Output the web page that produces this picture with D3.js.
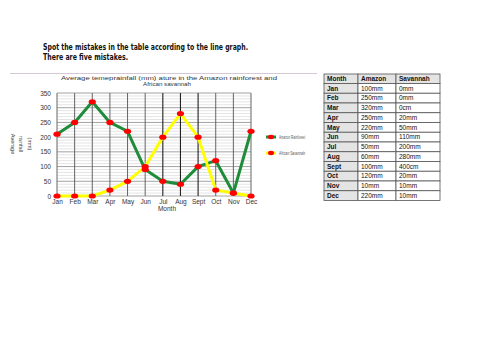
<!DOCTYPE html>
<html><head><meta charset="utf-8">
<script src="https://cdn.jsdelivr.net/npm/d3@7"></script>
<style>body{margin:0;background:#fff}svg{display:block}</style>
</head><body>
<svg id="c" width="500" height="353"></svg>
<script>
const months = ["Jan","Feb","Mar","Apr","May","Jun","Jul","Aug","Sept","Oct","Nov","Dec"];
const monthLabels = ["Jan","Feb","Mar","Apr","May","Jun","Jul","Aug","Sept","Oct","Nov","Dec"];
const amazon = [210,250,320,250,220,90,50,40,100,120,10,220];
const savannah = [0,0,0,20,50,100,200,280,200,20,10,0];
const yTicks = [0,50,100,150,200,250,300,350];
const seriesNames = ["Amazon Rainforest","African Savannah"];
const tableHeader = ["Month","Amazon","Savannah"];
const tableMonths = ["Jan","Feb","Mar","Apr","May","Jun","Jul","Aug","Sept","Oct","Nov","Dec"];
const tableAmazon = ["100mm","250mm","320mm","250mm","220mm","90mm","50mm","60mm","100mm","120mm","10mm","220mm"];
const tableSavannah = ["0mm","0mm","0cm","20mm","50mm","110mm","200mm","280mm","400cm","20mm","10mm","10mm"];

const svg = d3.select("#c");

// instructions
const instr = svg.append("g").attr("font-family","DejaVu Sans").attr("font-weight","bold").attr("font-size",8).attr("fill","#111");
instr.append("text").attr("x",43).attr("y",50).attr("textLength",205).attr("lengthAdjust","spacingAndGlyphs")
  .text("Spot the mistakes in the table according to the line graph.");
instr.append("text").attr("x",43).attr("y",60).attr("textLength",85).attr("lengthAdjust","spacingAndGlyphs")
  .text("There are five mistakes.");

svg.append("line").attr("x1",10).attr("x2",317).attr("y1",73.5).attr("y2",73.5).attr("stroke","#d6c8d6").attr("stroke-width",1);

// chart
const x = d3.scalePoint().domain(months).range([57,251]);
const y = d3.scaleLinear().domain([0,350]).range([196,93]);

const title = svg.append("g").attr("font-family","Liberation Sans").attr("font-size",6.2).attr("fill","#333").attr("text-anchor","middle");
title.append("text").attr("x",169).attr("y",79.5).attr("textLength",216).attr("lengthAdjust","spacingAndGlyphs")
  .text("Average temeprainfall (mm) ature  in the Amazon rainforest and");
title.append("text").attr("x",167).attr("y",86).text("African savannah");

const grid = svg.append("g");
grid.selectAll("line.minor").data(d3.range(0,351,10).filter(v=>v%50!==0)).join("line")
  .attr("x1",57).attr("x2",251).attr("y1",d=>y(d)).attr("y2",d=>y(d)).attr("stroke","#d2d2d2").attr("stroke-width",0.6);
grid.selectAll("line.major").data(yTicks).join("line")
  .attr("x1",57).attr("x2",251).attr("y1",d=>y(d)).attr("y2",d=>y(d)).attr("stroke","#8a8a8a").attr("stroke-width",0.8);
grid.selectAll("line.v").data(months).join("line")
  .attr("x1",d=>x(d)).attr("x2",d=>x(d)).attr("y1",93).attr("y2",196)
  .attr("stroke",(d,i)=>(i>=6&&i<=8)?"#222":"#555").attr("stroke-width",(d,i)=>(i>=6&&i<=8)?1.1:0.9);

const yAxis = svg.append("g").attr("transform","translate(57,0)")
  .call(d3.axisLeft(y).tickValues(yTicks).tickSize(0).tickPadding(6));
yAxis.select(".domain").remove();
yAxis.selectAll("text").attr("font-family","Liberation Sans").attr("font-size",6.5).attr("fill","#333");

const xAxis = svg.append("g").attr("transform","translate(0,196)")
  .call(d3.axisBottom(x).tickFormat((d,i)=>monthLabels[i]).tickSize(0).tickPadding(3));
xAxis.select(".domain").remove();
xAxis.selectAll("text").attr("font-family","Liberation Sans").attr("font-size",6.5).attr("fill","#333");

svg.append("text").attr("x",167).attr("y",210.5).attr("text-anchor","middle")
  .attr("font-family","Liberation Sans").attr("font-size",6.5).attr("fill","#333").text("Month");

const yl = svg.append("g").attr("font-family","Liberation Sans").attr("font-size",5.5).attr("fill","#444").attr("text-anchor","middle");
[["Average",13],["rainfall",21],["(mm)",30]].forEach(([t,px])=>{
  yl.append("text").attr("transform",`translate(${px},144) rotate(90)`).attr("dy","0.35em").text(t);
});

const line = d3.line().x((d,i)=>x(months[i])).y(d=>y(d));
svg.append("path").datum(amazon).attr("d",line).attr("fill","none").attr("stroke","#1e8c3a").attr("stroke-width",3).attr("stroke-linejoin","round");
svg.append("path").datum(savannah).attr("d",line).attr("fill","none").attr("stroke","#ffff00").attr("stroke-width",3).attr("stroke-linejoin","round");
[amazon,savannah].forEach(s=>{
  svg.append("g").selectAll("ellipse").data(s).join("ellipse")
    .attr("cx",(d,i)=>x(months[i])).attr("cy",d=>y(d)).attr("rx",3.6).attr("ry",2.6).attr("fill","#ff0000");
});

// legend
const legColors = ["#1e8c3a","#ffff00"];
const leg = svg.append("g");
seriesNames.forEach((n,i)=>{
  const ly = 137 + i*16;
  leg.append("line").attr("x1",266).attr("x2",276).attr("y1",ly).attr("y2",ly).attr("stroke",legColors[i]).attr("stroke-width",3);
  leg.append("ellipse").attr("cx",271).attr("cy",ly).attr("rx",3).attr("ry",2.2).attr("fill","#ff0000");
  leg.append("text").attr("x",279).attr("y",ly).attr("dy","0.35em").attr("font-family","Liberation Sans").attr("font-size",4.5)
    .attr("fill","#555").attr("textLength",26).attr("lengthAdjust","spacingAndGlyphs").text(n);
});

// table
const colX = [324,358,396,440];
const tTop = 74, headH = 9.5, rowH = 9.75;
const tb = svg.append("g").attr("font-family","Liberation Sans").attr("font-size",6.5).attr("fill","#111");
const rows = [tableHeader].concat(tableMonths.map((m,i)=>[m,tableAmazon[i],tableSavannah[i]]));
rows.forEach((r,ri)=>{
  const y0 = ri===0 ? tTop : tTop+headH+(ri-1)*rowH;
  const h = ri===0 ? headH : rowH;
  r.forEach((c,ci)=>{
    tb.append("rect").attr("x",colX[ci]).attr("y",y0).attr("width",colX[ci+1]-colX[ci]).attr("height",h)
      .attr("fill",(ri===0||ci===0)?"#e4e4e4":"#ffffff").attr("stroke","#555").attr("stroke-width",0.8);
    tb.append("text").attr("x",colX[ci]+3).attr("y",y0+h/2).attr("dy","0.35em")
      .attr("font-weight",(ri===0||ci===0)?"bold":"normal").text(c);
  });
});
</script>
</body></html>
